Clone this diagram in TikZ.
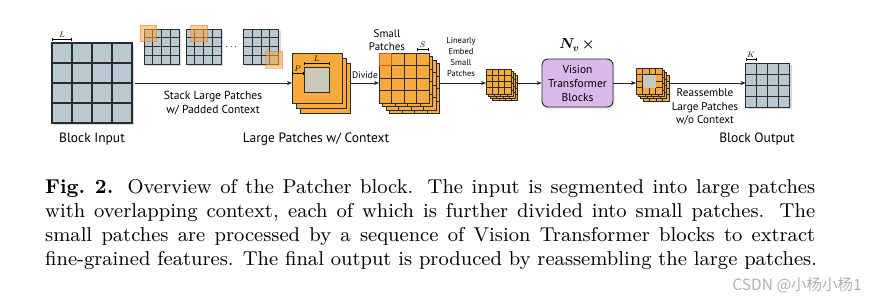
\documentclass[tikz,border=0pt]{standalone}
\usepackage{amsmath}
\usepackage{fontspec}
\newfontfamily\labelfont{PT Sans}
\newfontfamily\capfont{lmroman9-regular}[Extension=.otf, BoldFont=lmroman9-bold]
\newfontfamily\cjkfont{Noto Sans CJK SC}
\usetikzlibrary{calc,shadows,arrows.meta}
\definecolor{gridblue}{HTML}{B9C9D2}
\definecolor{patchorange}{HTML}{F7AA3C}
\definecolor{ctxgray}{HTML}{C9C7B7}
\definecolor{vitpurple}{HTML}{D9B8EC}
\definecolor{edgedark}{HTML}{2B2B2B}
\definecolor{ctxred}{HTML}{E8502A}
\tikzset{
  cells/.style={draw=edgedark, inner sep=0pt, outer sep=0pt, minimum size=#1,
    path picture={
      \foreach \i in {1,2,3}{
        \draw[edgedark]
          ($(path picture bounding box.north west)!\i/4!(path picture bounding box.north east)$) --
          ($(path picture bounding box.south west)!\i/4!(path picture bounding box.south east)$)
          ($(path picture bounding box.north west)!\i/4!(path picture bounding box.south west)$) --
          ($(path picture bounding box.north east)!\i/4!(path picture bounding box.south east)$);
      }}},
  bluegrid/.style={cells=#1, fill=gridblue, line width=1.2pt,
    drop shadow={opacity=0.3, shadow xshift=2pt, shadow yshift=-2pt}},
  orangegrid/.style={cells=#1, fill=patchorange},
  patchbox/.style={draw=edgedark, line width=0.9pt, fill=patchorange, inner sep=0pt, outer sep=0pt, minimum size=#1},
  ctxbox/.style={fill=patchorange, fill opacity=0.55, draw=ctxred, draw opacity=0.35, line width=0.8pt},
  flow/.style={-{Stealth[length=5pt,width=4pt]}, line width=0.7pt, draw=black!85},
  dimbar/.style={{Bar[width=3pt]}-{Bar[width=3pt]}, line width=0.7pt},
  lbl/.style 2 args={font=\labelfont\fontsize{#1}{#2}\selectfont, align=center, inner sep=0pt},
  vit/.style={draw=edgedark, line width=0.9pt, fill=vitpurple, rounded corners=6pt,
    minimum width=71pt, minimum height=48pt, align=center, inner sep=0pt,
    font=\labelfont\fontsize{11.5}{14}\selectfont, drop shadow={opacity=0.25, shadow xshift=1.5pt, shadow yshift=-1.5pt}}
}
\begin{document}
\begin{tikzpicture}[x=1pt, y=-1pt]
  \useasboundingbox[fill=white] (0,0) rectangle (875,300);
  \coordinate (row) at (0,83);

  % block input and stacked large patches
  \node[bluegrid=80pt] (input) at (92,83) {};
  \node[bluegrid=35pt, line width=0.9pt] (g1) at (161.5,46.5) {};
  \node[bluegrid=35pt, line width=0.9pt] (g2) at (203.5,46.5) {};
  \node[bluegrid=35pt, line width=0.9pt] (g3) at (261,46.5) {};
  \node[inner sep=0pt] (dots) at (232,47) {$\cdots$};
  \draw[ctxbox] ($(g1.north west)+(-4,-4)$) rectangle ++(16.75,16.75);
  \draw[ctxbox] ($(g2.north west)+(4.75,-4)$) rectangle ++(16.75,16.75);
  \draw[ctxbox] ($(g3.south east)+(4,4)$) rectangle ++(-16.75,-16.75);
  \draw[dimbar] ($(input.north west)+(0,-4)$) -- ++(20,0) node[midway, above=0pt, inner sep=1pt] {\footnotesize$L$};

  % large patches with context
  \foreach \k in {2,1}
    \node[patchbox=50pt] (large-\k) at (317+4*\k,78+5*\k) {};
  \node[patchbox=50pt] (large) at (317,78) {};
  \node[draw=edgedark, line width=0.8pt, fill=ctxgray, minimum size=25pt, inner sep=0pt] (ctx) at (316.5,80) {};
  \draw[dimbar] ($(ctx.north west)+(0,-4)$) -- ($(ctx.north east)+(0,-4)$) node[midway, above=0pt, inner sep=1pt] {\footnotesize$L$};
  \draw[dimbar] ($(ctx.north west)+(0,6)$) -- ++(-12,0) node[midway, above=0pt, inner sep=1pt] {\footnotesize$P$};

  % small patches
  \foreach \k in {3,2,1}
    \node[orangegrid=50pt, line width=0.8pt] (small-\k) at (404+3.5*\k,78+3.5*\k) {};
  \node[orangegrid=50pt, line width=0.8pt] (small) at (404,78) {};
  \draw[ctxred, line width=1pt] (small.north west) rectangle ++(12.5,12.5);
  \draw[dimbar] ($(small.north east)+(-12.5,-4)$) -- ++(12.5,0) node[midway, above=0pt, inner sep=1pt] {\footnotesize$S$};

  % embedded patches, transformer, output patches
  \foreach \k in {3,2,1}
    \node[orangegrid=25pt, line width=0.6pt] (embed-\k) at (498.5+2.2*\k,81.5+2.2*\k) {};
  \node[orangegrid=25pt, line width=0.6pt] (embed) at (498.5,81.5) {};
  \node[vit] (vt) at (577.5,83) {Vision\\Transformer\\Blocks};
  \node[inner sep=0pt] (nv) at (577,45) {\fontsize{14}{16}\selectfont$\boldsymbol{N_v}\,\boldsymbol{\times}$};
  \foreach \k in {3,2,1}
    \node[orangegrid=26pt, line width=0.6pt] (out-\k) at (649+2.3*\k,81+2.3*\k) {};
  \node[orangegrid=26pt, line width=0.6pt] (out) at (649,81) {};
  \fill[ctxgray] ($(out.north west)+(6.5,6.5)$) rectangle ++(13,13);

  % block output
  \node[bluegrid=44pt, line width=0.9pt] (output) at (767.5,85) {};
  \draw[dimbar] ($(output.north west)+(0,-4)$) -- ++(11,0) node[midway, above=0pt, inner sep=1pt] {\footnotesize$K$};

  % connectors
  \draw[flow, shorten <=3pt] (input.east |- row) -- (large.west |- row);
  \draw[flow] (large-2.east |- row) -- (small.west |- row);
  \draw[flow] (small-3.east |- row) -- (embed.west |- row);
  \draw[flow] (embed-3.east |- row) -- (vt.west);
  \draw[flow] (vt.east) -- (out.west |- row);
  \draw[flow] (out-3.east |- row) -- (output.west |- row);

  % labels
  \node[lbl={13.5}{15}] (t-input) at (92,139) {Block Input};
  \node[lbl={11.6}{14}] (t-stack) at (213,103) {Stack Large Patches\\w/ Padded Context};
  \node[lbl={13.5}{15}] (t-large) at (316,139) {Large Patches w/ Context};
  \node[lbl={9.5}{11}] (t-divide) at (365,75) {Divide};
  \node[lbl={11}{13}] (t-small) at (387,40) {Small\\Patches};
  \node[lbl={8.5}{11.3}] (t-embed) at (461,57) {Linearly\\Embed\\Small\\Patches};
  \node[lbl={11.2}{13.5}] (t-reasm) at (705,107) {Reassemble\\Large Patches\\w/o Context};
  \node[lbl={13.5}{15}] (t-output) at (757,139) {Block Output};

  % caption
  \begin{scope}[every node/.style={anchor=base west, inner sep=0pt, font=\capfont\fontsize{20.03}{24}\selectfont}]
    \node (cap1) at (45,193) {\makebox[770pt][s]{\textbf{Fig.~2.} Overview of the Patcher block. The input is segmented into large patches}};
    \node (cap2) at (45,217) {\makebox[770pt][s]{with overlapping context, each of which is further divided into small patches. The}};
    \node (cap3) at (45,241) {\makebox[770pt][s]{small patches are processed by a sequence of Vision Transformer blocks to extract}};
    \node (cap4) at (45,265) {fine-grained features. The final output is produced by reassembling the large patches.};
  \end{scope}
  \node[anchor=east, text=gray!60, inner sep=0pt] (mark) at (862,285) {\cjkfont\fontsize{15.5}{17}\selectfont CSDN @小杨小杨1};
\end{tikzpicture}
\end{document}
